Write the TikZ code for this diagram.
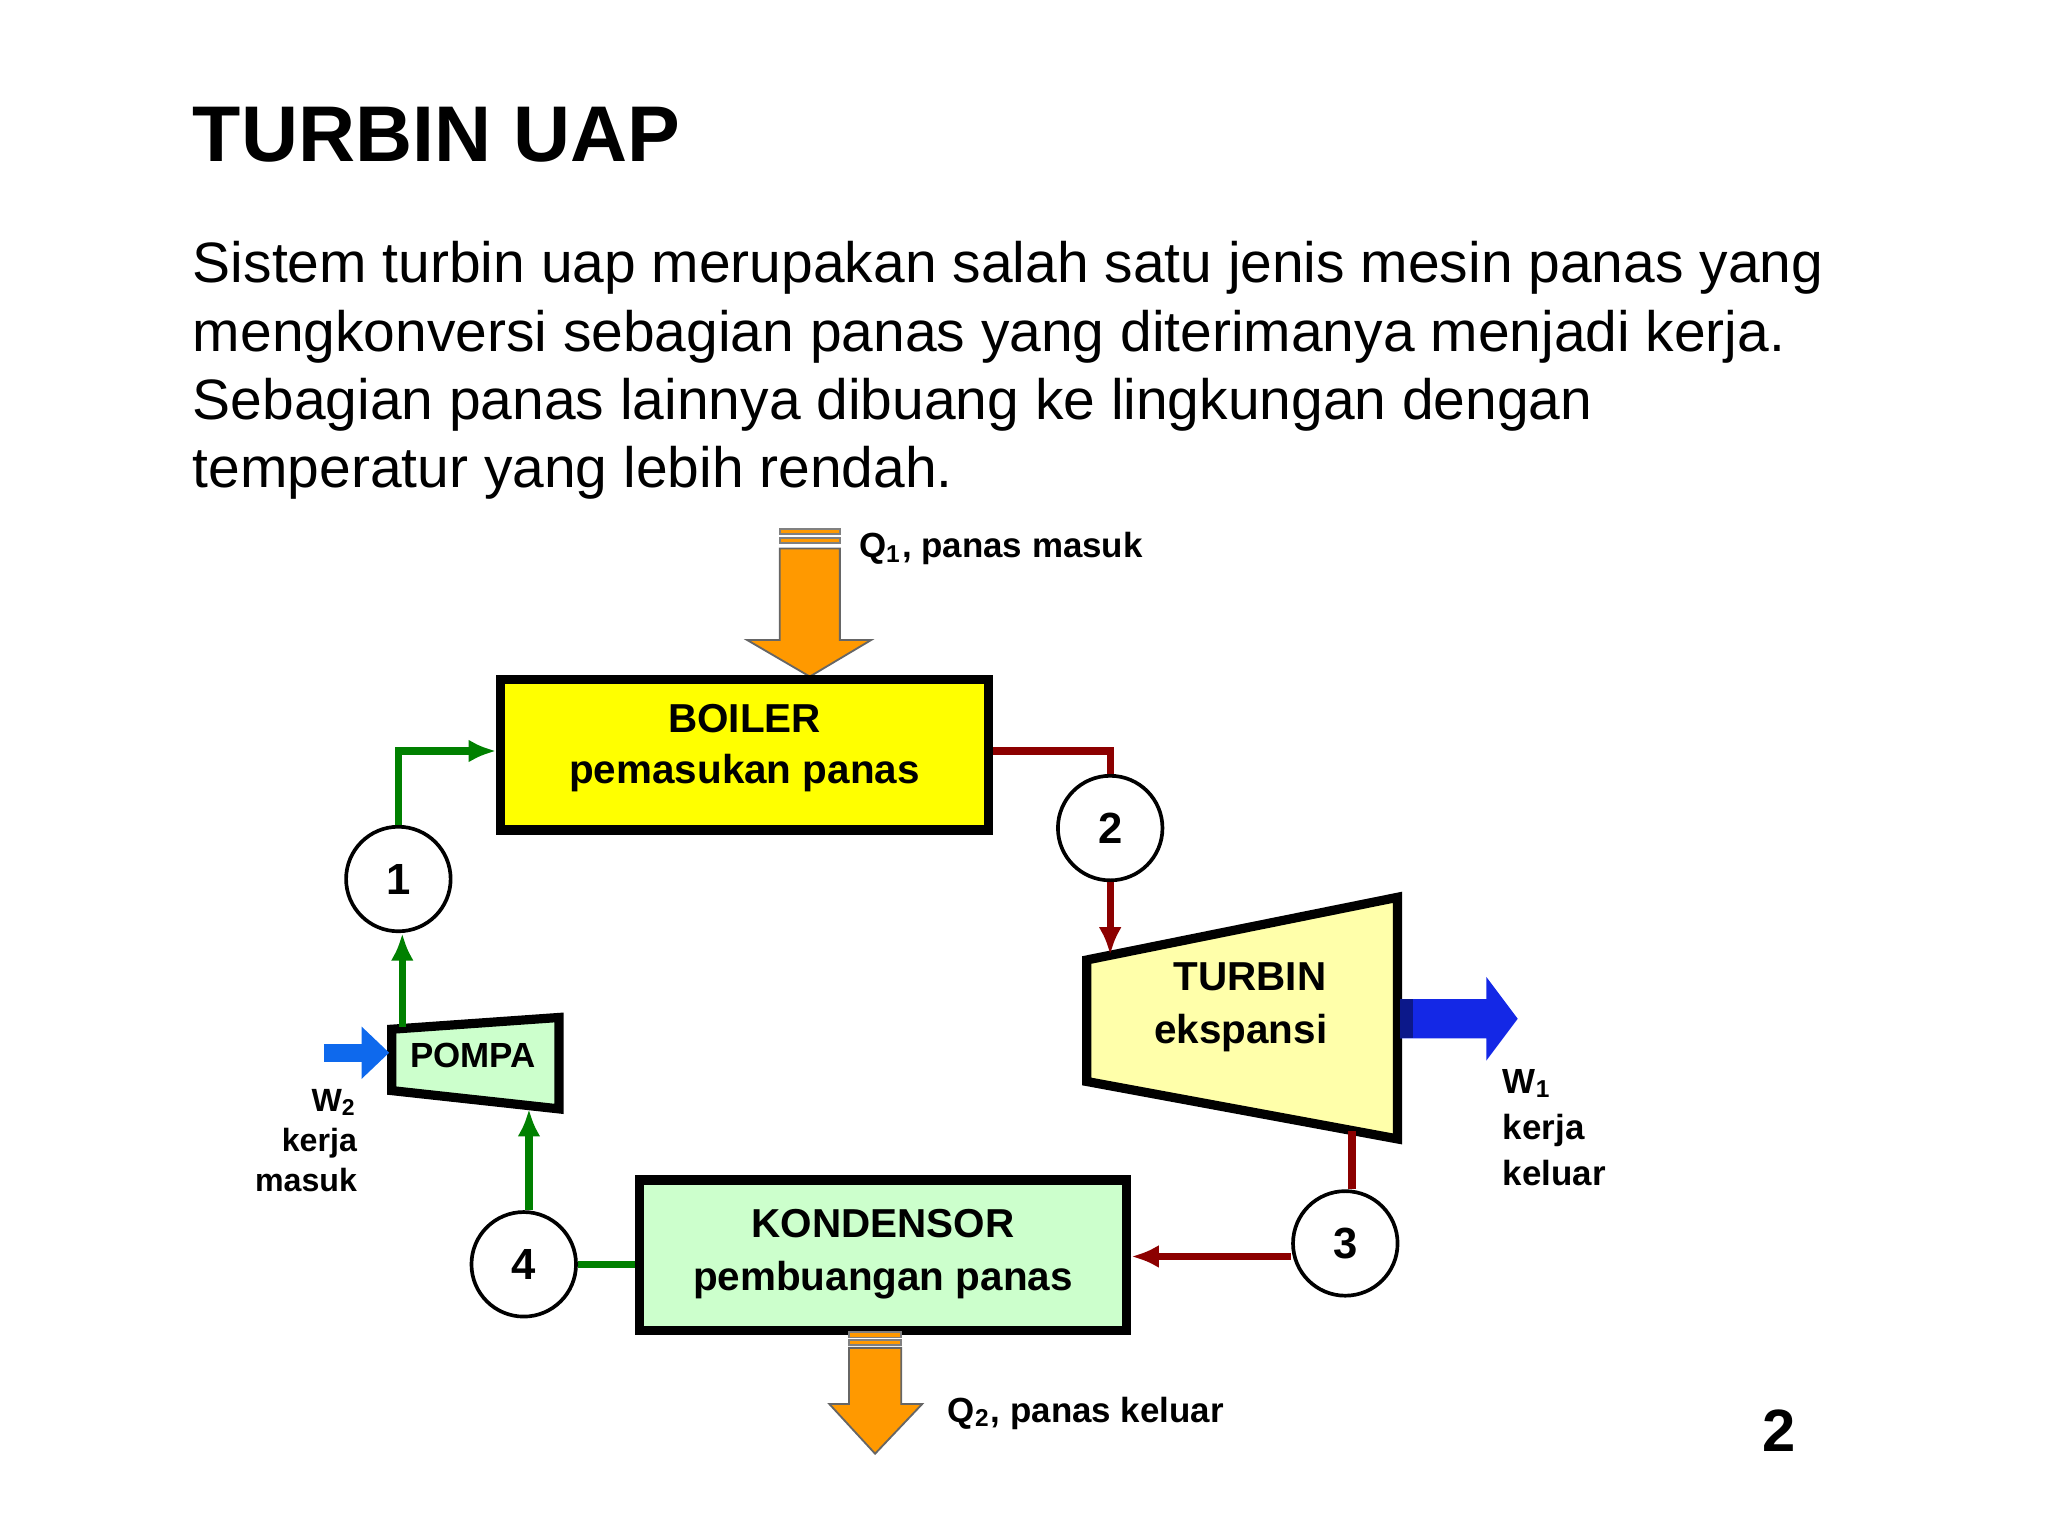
\documentclass[tikz,border=0pt]{standalone}
\usepackage{fontspec}
\setmainfont{Liberation Sans}
\usetikzlibrary{arrows.meta}
\begin{document}
\begin{tikzpicture}[x=0.01cm,y=-0.01cm,
  lbl/.style={font=\fontsize{8.8}{10}\selectfont\bfseries,inner sep=0pt},
  sml/.style={font=\fontsize{7.6}{9}\selectfont\bfseries,inner sep=0pt},
  para/.style={anchor=west,font=\fontsize{12.4}{14}\selectfont,inner sep=0pt},
  circ/.style={draw,circle,thick,minimum size=0.8cm,fill=white,font=\fontsize{9.5}{11}\selectfont\bfseries,inner sep=0pt},
  grn/.style={draw={rgb,255:red,0;green,128;blue,0},line width=1.6pt},
  drd/.style={draw={rgb,255:red,140;green,0;blue,0},line width=1.6pt},
  arr/.style={-{Latex[length=6pt,width=5pt]}}]
\useasboundingbox (0,0) rectangle (1568,1176);
\definecolor{byel}{RGB}{255,255,0}
\definecolor{tyel}{RGB}{255,255,170}
\definecolor{lgrn}{RGB}{204,255,204}
\definecolor{org}{RGB}{255,153,0}
\definecolor{blu}{RGB}{20,40,230}
\node[anchor=west,font=\fontsize{17.2}{20}\selectfont\bfseries,inner sep=0pt] (title) at (147,103) {TURBIN UAP};
\node[para] (p1) at (147,205) {Sistem turbin uap merupakan salah satu jenis mesin panas yang};
\node[para] (p2) at (147,258) {mengkonversi sebagian panas yang diterimanya menjadi kerja.};
\node[para] (p3) at (147,310) {Sebagian panas lainnya dibuang ke lingkungan dengan};
\node[para] (p4) at (147,362) {temperatur yang lebih rendah.};
% Q1 arrow
\fill[org,draw=black!60] (597,420) -- (643,420) -- (643,490) -- (667,490) -- (620,518) -- (572,490) -- (597,490) -- cycle;
\fill[org,draw=black!50] (597,405) rectangle (643,409);
\fill[org,draw=black!50] (597,412) rectangle (643,416);
\node[sml,anchor=west] (q1) at (657,420) {Q\textsubscript{1}, panas masuk};
% boiler
\node[draw,line width=2pt,fill=byel,minimum width=3.73cm,minimum height=1.15cm,inner sep=0pt] (boiler) at (570,578) {};
\node[lbl] (bt1) at (570,550) {BOILER};
\node[lbl] (bt2) at (570,592) {pemasukan panas};
% condenser
\node[draw,line width=2pt,fill=lgrn,minimum width=3.73cm,minimum height=1.15cm,inner sep=0pt] (kond) at (676,961) {};
\node[lbl] (kt1) at (676,937) {KONDENSOR};
\node[lbl] (kt2) at (676,980) {pembuangan panas};
% Q2 arrow
\fill[org,draw=black!60] (650,1032) -- (690,1032) -- (690,1075) -- (706,1075) -- (670,1113) -- (635,1075) -- (650,1075) -- cycle;
\fill[org,draw=black!50] (650,1020) rectangle (690,1024);
\fill[org,draw=black!50] (650,1026) rectangle (690,1030);
\node[sml,anchor=west] (q2) at (725,1082) {Q\textsubscript{2}, panas keluar};
% turbine
\draw[line width=2pt,fill=tyel] (832,735) -- (1070,687) -- (1070,872) -- (832,828) -- cycle;
\coordinate (tin) at (850,731);
\coordinate (tout) at (1035,866);
\node[lbl] (tt1) at (957,748) {TURBIN};
\node[lbl] (tt2) at (950,791) {ekspansi};
% W1 arrow
\fill[blu] (1072,765) -- (1138,765) -- (1138,748) -- (1162,780) -- (1138,812) -- (1138,795) -- (1072,795) -- cycle;
\fill[blu!60!black] (1072,765) rectangle (1082,795);
\node[sml,anchor=north west,align=left] (w1) at (1150,818) {W\textsubscript{1}\\[1pt]kerja\\[1pt]keluar};
% pump
\draw[line width=2pt,fill=lgrn] (300,788) -- (428,779) -- (428,849) -- (300,835) -- cycle;
\coordinate (pin) at (405,849);
\coordinate (pout) at (308,786);
\coordinate (pl) at (298,806);
\node[sml] (pt) at (362,808) {POMPA};
% W2
\coordinate (w2s) at (248,806);
\draw[line width=4pt,blu!70!cyan,-{Triangle[length=6pt,width=11pt]}] (w2s) -- (pl);
\node[font=\fontsize{7}{8}\selectfont\bfseries,inner sep=0pt,anchor=north east,align=right] (w2) at (274,833) {W\textsubscript{2}\\[0.8pt]kerja\\[0.8pt]masuk};
% circles
\node[circ] (c1) at (305,673) {1};
\node[circ] (c2) at (850,634) {2};
\node[circ] (c3) at (1030,952) {3};
\node[circ] (c4) at (401,968) {4};
% connectors
\draw[grn,arr] (c1.north) |- (boiler.west |- 0,575);
\draw[drd] (boiler.east |- 0,575) -| (c2.north);
\draw[drd,arr] (c2.south) -- (tin);
\draw[drd] (tout) -- (tout |- c3.north);
\draw[drd,arr] (c3.west |- 0,962) -- (kond.east |- 0,962);
\draw[grn] (kond.west |- 0,968) -- (c4.east);
\draw[grn,arr] (c4.north -| pin) -- (pin);
\draw[grn,arr] (pout) -- (pout |- c1.south);
\node[font=\fontsize{13}{15}\selectfont\bfseries] (pg) at (1362,1095) {2};
\end{tikzpicture}
\end{document}
